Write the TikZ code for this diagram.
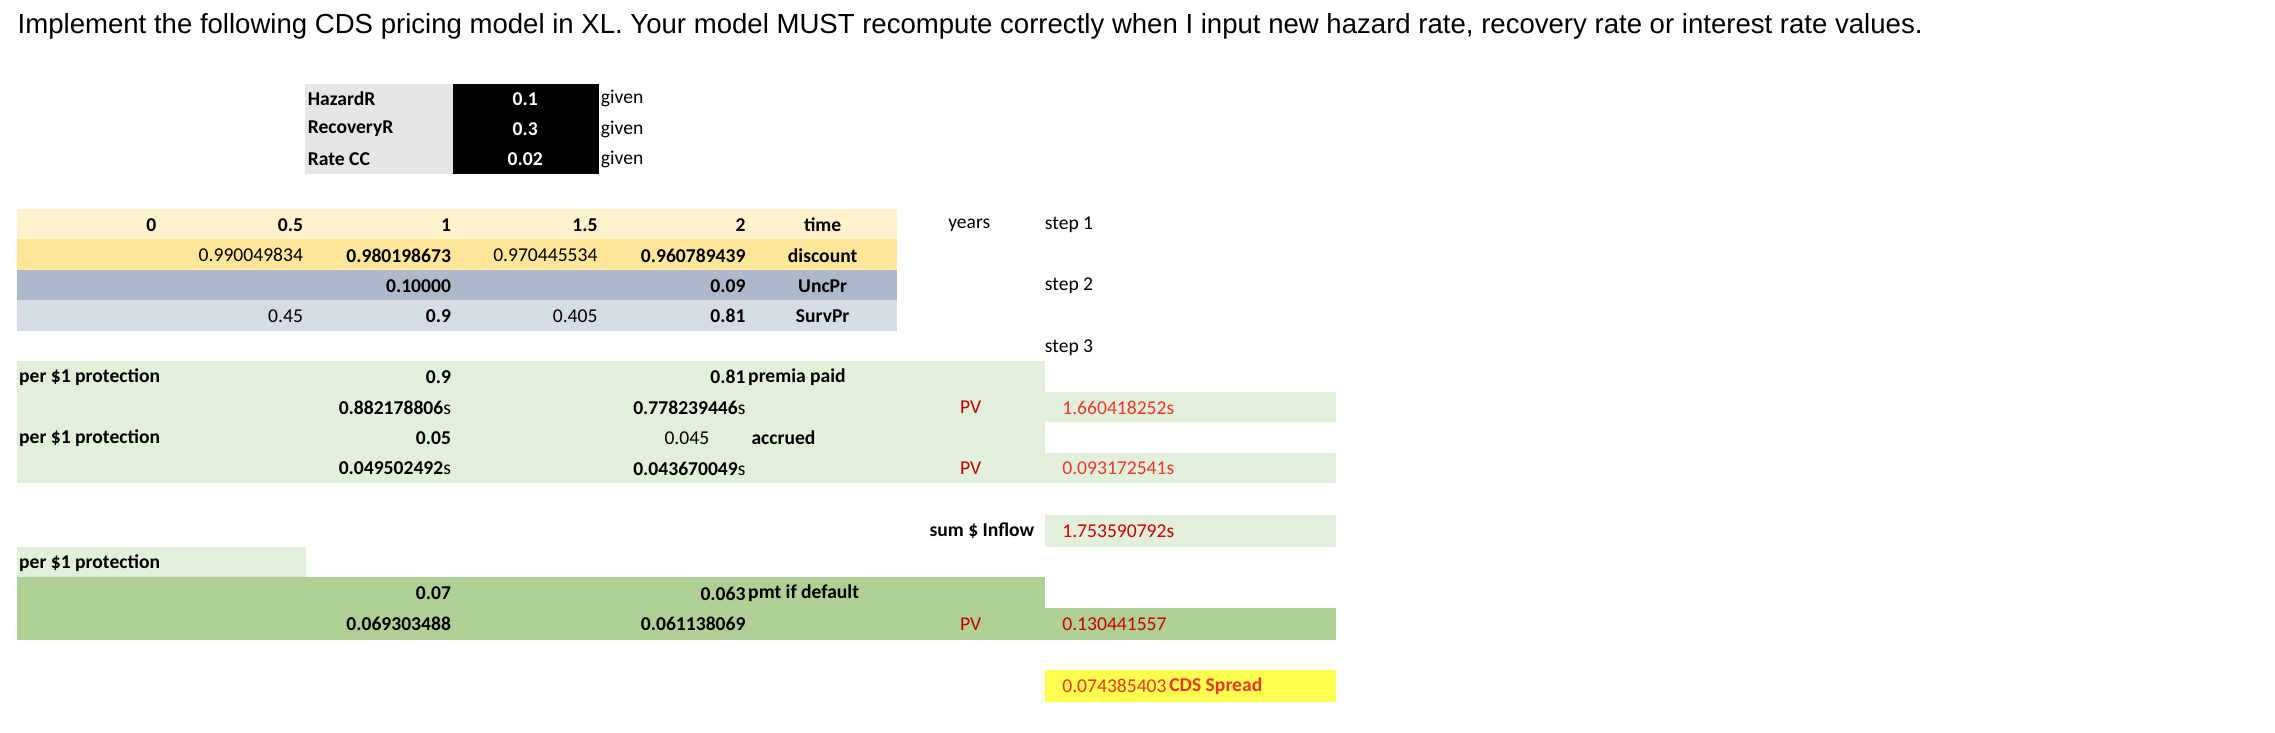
\documentclass[tikz,border=0pt]{standalone}
\usepackage{fontspec}
\setmainfont{Carlito}
\newfontfamily\arialf{Liberation Sans}
\definecolor{lgreen}{HTML}{E2EFDA}
\definecolor{mgreen}{HTML}{B0CF94}
\definecolor{ly}{HTML}{FFF2CC}
\definecolor{my}{HTML}{FFE699}
\definecolor{dg}{HTML}{ADB9CA}
\definecolor{lg}{HTML}{D6DCE4}
\definecolor{tg}{HTML}{E7E6E6}
\definecolor{cy}{HTML}{FFFF4D}
\definecolor{pvred}{HTML}{C00000}
\definecolor{vred}{HTML}{E8382A}
\begin{document}
\begin{tikzpicture}[x=1pt,y=-1pt,
  cell/.style={inner sep=1pt,font=\fontsize{13.5}{14}\selectfont\bfseries},
  cellr/.style={inner sep=1pt,font=\fontsize{13.5}{14}\selectfont},
  R/.style={anchor=east},L/.style={anchor=west},C/.style={anchor=center}]
\useasboundingbox (0,0) rectangle (1568,505);
\node[anchor=west,inner sep=0,font=\arialf\fontsize{19}{22}\selectfont] (title) at (12,18) {Implement the following CDS pricing model in XL. Your model MUST recompute correctly when I input new hazard rate, recovery rate or interest rate values.};
% fills
\fill[tg] (210,58) rectangle (312,120);
\fill[black] (312,58) rectangle (413,120);
\fill[ly] (12,144) rectangle (618,165);
\fill[my] (12,165) rectangle (618,186);
\fill[dg] (12,186) rectangle (618,207);
\fill[lg] (12,207) rectangle (618,228);
\fill[lgreen] (12,249) rectangle (720,270);
\fill[lgreen] (12,270) rectangle (921,291);
\fill[lgreen] (12,291) rectangle (720,312);
\fill[lgreen] (12,312) rectangle (921,333);
\fill[lgreen] (720,355) rectangle (921,377);
\fill[lgreen] (12,377) rectangle (211,398);
\fill[mgreen] (12,398) rectangle (720,419);
\fill[mgreen] (12,419) rectangle (921,441);
\fill[cy] (720,462) rectangle (921,484);
% top inputs
\node[cell,L] (h) at (211,68) {HazardR};
\node[cell,L] (r) at (211,89) {RecoveryR};
\node[cell,L] (c) at (211,110) {Rate CC};
\node[cell,C,text=white] (hv) at (362,68) {0.1};
\node[cell,C,text=white] (rv) at (362,89) {0.3};
\node[cell,C,text=white] (cv) at (362,110) {0.02};
\node[cellr,L] (g1) at (413,68) {given};
\node[cellr,L] (g2) at (413,89) {given};
\node[cellr,L] (g3) at (413,110) {given};
% table
\node[cell,R] (t0) at (109,155) {0};
\node[cell,R] (t1) at (210,155) {0.5};
\node[cell,R] (t2) at (312,155) {1};
\node[cell,R] (t3) at (413,155) {1.5};
\node[cell,R] (t4) at (515,155) {2};
\node[cell,C] (tl) at (567,155) {time};
\node[cellr,C] (yr) at (668,155) {years};
\node[cellr,L] (s1) at (719,155) {step 1};
\node[cellr,R] (d1) at (210,176) {0.990049834};
\node[cell,R] (d2) at (312,176) {0.980198673};
\node[cellr,R] (d3) at (413,176) {0.970445534};
\node[cell,R] (d4) at (515,176) {0.960789439};
\node[cell,C] (dl) at (567,176) {discount};
\node[cell,R] (u2) at (312,197) {0.10000};
\node[cell,R] (u4) at (515,197) {0.09};
\node[cell,C] (ul) at (567,197) {UncPr};
\node[cellr,L] (s2) at (719,197) {step 2};
\node[cellr,R] (p1) at (210,218) {0.45};
\node[cell,R] (p2) at (312,218) {0.9};
\node[cellr,R] (p3) at (413,218) {0.405};
\node[cell,R] (p4) at (515,218) {0.81};
\node[cell,C] (pl) at (567,218) {SurvPr};
\node[cellr,L] (s3) at (719,240) {step 3};
% premia
\node[cell,L] (a1) at (12,260) {per \$1 protection};
\node[cell,R] (a2) at (312,260) {0.9};
\node[cell,R] (a3) at (515,260) {0.81};
\node[cell,L,inner sep=0.5pt] (a4) at (515,260) {premia paid};
\node[cell,R] (b2) at (312,281) {0.882178806\mdseries s};
\node[cell,R] (b3) at (515,281) {0.778239446\mdseries s};
\node[cellr,C,text=pvred] (b4) at (669,281) {PV};
\node[cellr,L,text=vred] (b5) at (731,281) {1.660418252s};
\node[cell,L] (e1) at (12,302) {per \$1 protection};
\node[cell,R] (e2) at (312,302) {0.05};
\node[cellr,R] (e3) at (490,302) {0.045};
\node[cell,C] (e4) at (540,302) {accrued};
\node[cell,R] (f2) at (312,323) {0.049502492\mdseries s};
\node[cell,R] (f3) at (515,323) {0.043670049\mdseries s};
\node[cellr,C,text=pvred] (f4) at (669,323) {PV};
\node[cellr,L,text=vred] (f5) at (731,323) {0.093172541s};
\node[cell,R] (si) at (714,366) {sum \$ Inflow};
\node[cellr,L,text=pvred!85!red] (sv) at (731,366) {1.753590792s};
% default
\node[cell,L] (k1) at (12,388) {per \$1 protection};
\node[cell,R] (k2) at (312,409) {0.07};
\node[cell,R] (k3) at (515,409) {0.063};
\node[cell,L,inner sep=0.5pt] (k4) at (515,409) {pmt if default};
\node[cell,R] (m2) at (312,430) {0.069303488};
\node[cell,R] (m3) at (515,430) {0.061138069};
\node[cellr,C,text=pvred] (m4) at (669,430) {PV};
\node[cellr,L,text=pvred!85!red] (m5) at (731,430) {0.130441557};
\node[cellr,L,text=vred] (cd) at (731,473) {0.074385403};
\node[cell,L,text=vred,inner sep=0.5pt] (cdl) at (cd.east) {CDS Spread};
\end{tikzpicture}
\end{document}
